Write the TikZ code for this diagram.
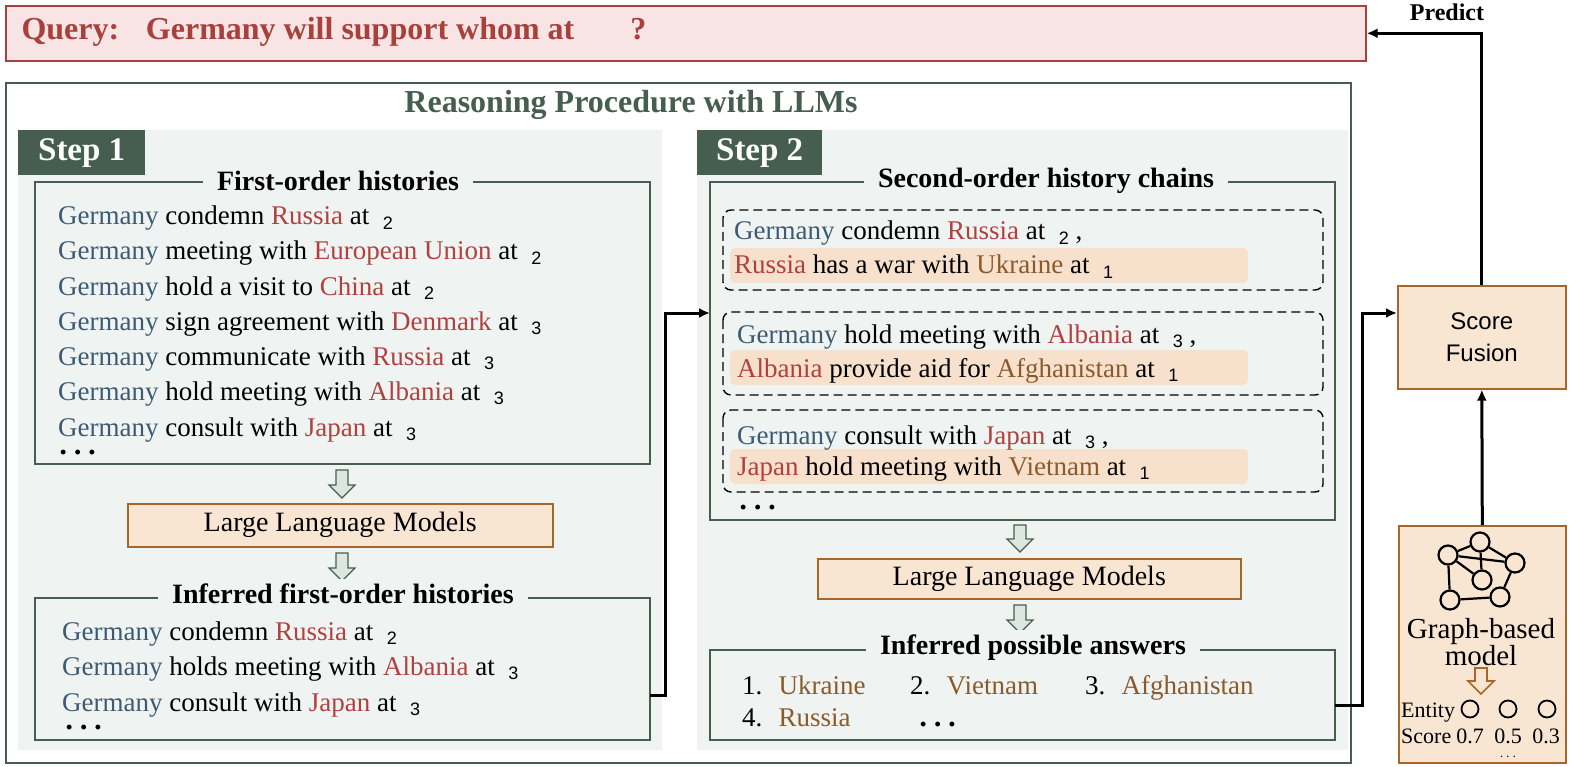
\documentclass[tikz,border=0pt]{standalone}
\usepackage{fontspec}
\setmainfont{Liberation Serif}
\setsansfont{Liberation Sans}
\usetikzlibrary{arrows.meta}
\definecolor{qfill}{HTML}{F8E4E4}
\definecolor{qred}{HTML}{A8403C}
\definecolor{dgreen}{HTML}{455E50}
\definecolor{panel}{HTML}{EFF4F2}
\definecolor{ofill}{HTML}{F8E6D2}
\definecolor{obrd}{HTML}{A5682A}
\definecolor{ger}{HTML}{3D5A73}
\definecolor{ent}{HTML}{B0413E}
\definecolor{ans}{HTML}{8B5A2B}
\definecolor{hl}{HTML}{F7E0CC}
\definecolor{hgreen}{HTML}{DCE7DF}
\newcommand{\G}{\textcolor{ger}{Germany}}
\newcommand{\E}[1]{\textcolor{ent}{#1}}
\newcommand{\A}[1]{\textcolor{ans}{#1}}
\newcommand{\ts}[1]{\hspace{0.5em}\raisebox{-0.35ex}{\sffamily\fontsize{18}{18}\selectfont #1}}
\newcommand{\dotsrow}{\textbf{\textbullet\hspace{0.45em}\textbullet\hspace{0.45em}\textbullet}}
\tikzset{
  line/.style={anchor=base west,inner sep=0pt,font=\rmfamily\fontsize{27}{30}\selectfont},
  dline/.style={anchor=base west,inner sep=0pt,font=\rmfamily\fontsize{18}{20}\selectfont},
  ttl/.style={fill=panel,inner xsep=14pt,inner ysep=5pt,font=\rmfamily\fontsize{28}{30}\selectfont\bfseries},
  gbox/.style={draw=dgreen,line width=1.6pt},
  obox/.style={draw=obrd,fill=ofill,line width=1.6pt,font=\rmfamily\fontsize{28}{30}\selectfont},
  conn/.style={line width=3pt,-{Latex[length=11pt,width=10pt]}},
  harrow/.style={draw=dgreen,fill=hgreen,line width=1.2pt},
  barrow/.style={draw=obrd,fill=ofill,line width=1.6pt},
  dbox/.style={draw=black,dashed,dash pattern=on 9pt off 5pt,rounded corners=8pt,line width=1.4pt},
  gn/.style={circle,draw,line width=2.2pt,minimum size=19pt,inner sep=0pt,fill=ofill},
  ec/.style={circle,draw,line width=1.8pt,minimum size=17pt,inner sep=0pt},
  sm/.style={anchor=base,inner sep=0pt,font=\rmfamily\fontsize{22}{24}\selectfont}
}
\newcommand{\hollow}[4]{% x, ytop, ybottom, style
  \draw[#4] (#1-6,#2) -- (#1+6,#2) -- (#1+6,#3-13) -- (#1+13,#3-13) -- (#1,#3) -- (#1-13,#3-13) -- (#1-6,#3-13) -- cycle;}
\begin{document}
\begin{tikzpicture}[x=1pt,y=-1pt]
\useasboundingbox (0,0) rectangle (1571,767);
% query
\node[draw=qred,fill=qfill,line width=1.6pt,minimum width=1360pt,minimum height=55pt,anchor=north west] (query) at (5,5) {};
\node[anchor=west,text=qred,font=\rmfamily\fontsize{32}{34}\selectfont\bfseries] (qtext) at (18,32) {Query:\hspace{0.5em} Germany will support whom at \hspace{1.5em}?};
\node[font=\rmfamily\fontsize{24}{26}\selectfont\bfseries] (pred) at (1447,12) {Predict};
% outer
\node[gbox,minimum width=1345pt,minimum height=680pt,anchor=north west] (outer) at (5,82) {};
\node[text=dgreen,font=\rmfamily\fontsize{32}{34}\selectfont\bfseries] (title) at (631,105) {Reasoning Procedure with LLMs};
% panels
\fill[panel] (18,130) rectangle (662,750);
\fill[panel] (697,130) rectangle (1348,750);
\node[fill=dgreen,text=white,font=\rmfamily\fontsize{33}{34}\selectfont\bfseries,minimum width=127pt,minimum height=45pt,anchor=north west,inner sep=0pt] (s1) at (18,130) {Step 1};
\node[fill=dgreen,text=white,font=\rmfamily\fontsize{33}{34}\selectfont\bfseries,minimum width=125pt,minimum height=45pt,anchor=north west,inner sep=0pt] (s2) at (697,130) {Step 2};
% step1 boxes
\draw[gbox] (35,182) rectangle (650,464);
\node[ttl] (t1) at (338,181) {First-order histories};
\node[line] (l1) at (58,225) {\G{} condemn \E{Russia} at\ts{2}};
\node[line] (l2) at (58,260) {\G{} meeting with \E{European Union} at\ts{2}};
\node[line] (l3) at (58,295) {\G{} hold a visit to \E{China} at\ts{2}};
\node[line] (l4) at (58,330) {\G{} sign agreement with \E{Denmark} at\ts{3}};
\node[line] (l5) at (58,365) {\G{} communicate with \E{Russia} at\ts{3}};
\node[line] (l6) at (58,400) {\G{} hold meeting with \E{Albania} at\ts{3}};
\node[line] (l7) at (58,436) {\G{} consult with \E{Japan} at\ts{3}};
\node[dline] (l8) at (60,458) {\dotsrow};
\hollow{342}{470}{498}{harrow}
\node[obox,minimum width=425pt,minimum height=43pt,anchor=north west] (llm1) at (127,503) {Large Language Models};
\hollow{342}{553}{581}{harrow}
\draw[gbox] (35,598) rectangle (650,740);
\node[ttl] (t2) at (343,594) {Inferred first-order histories};
\node[line] (m1) at (62,640) {\G{} condemn \E{Russia} at\ts{2}};
\node[line] (m2) at (62,675) {\G{} holds meeting with \E{Albania} at\ts{3}};
\node[line] (m3) at (62,711) {\G{} consult with \E{Japan} at\ts{3}};
\node[dline] (m4) at (66,733) {\dotsrow};
\coordinate (inf) at (650,695);
% step2
\draw[gbox] (710,182) rectangle (1335,520);
\node[ttl] (t3) at (1046,181) {Second-order history chains};
\draw[dbox] (723,210) rectangle (1323,290);
\draw[dbox] (723,312) rectangle (1323,395);
\draw[dbox] (723,410) rectangle (1323,492);
\fill[hl,rounded corners=5pt] (730,248) rectangle (1248,283);
\fill[hl,rounded corners=5pt] (730,350) rectangle (1248,385);
\fill[hl,rounded corners=5pt] (730,449) rectangle (1248,484);
\node[line] (c1) at (734,240) {\G{} condemn \E{Russia} at\ts{2} ,};
\node[line] (c2) at (734,274) {\E{Russia} has a war with \A{Ukraine} at\ts{1}};
\node[line] (c3) at (737,343) {\G{} hold meeting with \E{Albania} at\ts{3} ,};
\node[line] (c4) at (737,377) {\E{Albania} provide aid for \A{Afghanistan} at\ts{1}};
\node[line] (c5) at (737,444) {\G{} consult with \E{Japan} at\ts{3} ,};
\node[line] (c6) at (737,475) {\E{Japan} hold meeting with \A{Vietnam} at\ts{1}};
\node[dline] (c7) at (740,513) {\dotsrow};
\hollow{1020}{525}{552}{harrow}
\node[obox,minimum width=423pt,minimum height=40pt,anchor=north west] (llm2) at (817,558) {Large Language Models};
\hollow{1020}{605}{633}{harrow}
\draw[gbox] (710,650) rectangle (1335,740);
\node[ttl] (t4) at (1033,648) {Inferred possible answers};
\node[line] (a1) at (742,694) {1.\hspace{0.6em}\A{Ukraine}};
\node[line] (a2) at (910,694) {2.\hspace{0.6em}\A{Vietnam}};
\node[line] (a3) at (1085,694) {3.\hspace{0.6em}\A{Afghanistan}};
\node[line] (a4) at (742,726) {4.\hspace{0.6em}\A{Russia}};
\node[dline] (a5) at (920,730) {\dotsrow};
\coordinate (ansr) at (1335,705);
% score fusion
\node[obox,font=\sffamily\fontsize{24}{30}\selectfont,align=center,minimum width=168pt,minimum height=103pt,anchor=north west] (fusion) at (1397,285) {Score\\[2pt]Fusion};
\node[draw=obrd,fill=ofill,line width=1.6pt,minimum width=167pt,minimum height=237pt,anchor=north west] (gbm) at (1398,525) {};
% graph icon
\node[gn] (g1) at (1480,542) {};
\node[gn] (g2) at (1448,555) {};
\node[gn] (g3) at (1515,563) {};
\node[gn] (g4) at (1482,580) {};
\node[gn] (g5) at (1450,600) {};
\node[gn] (g6) at (1500,597) {};
\begin{scope}[line width=2.2pt]
\draw (g1)--(g2); \draw (g1)--(g3); \draw (g2)--(g3); \draw (g1)--(g4); \draw (g2)--(g4);
\draw (g2)--(g5); \draw (g5)--(g6); \draw (g6)--(g3);
\end{scope}
\node[font=\rmfamily\fontsize{29}{24}\selectfont,align=center] (gtext) at (1481,642) {Graph-based\\model};
\hollow{1481}{668}{694}{barrow}
\node[anchor=base west,inner sep=0pt,font=\rmfamily\fontsize{22}{24}\selectfont] (ent) at (1401,717) {Entity};
\node[anchor=base west,inner sep=0pt,font=\rmfamily\fontsize{22}{24}\selectfont] (sc) at (1401,743) {Score};
\node[ec] (e1) at (1470,709) {};
\node[ec] (e2) at (1508,709) {};
\node[ec] (e3) at (1547,709) {};
\node[sm] (v1) at (1470,743) {0.7};
\node[sm] (v2) at (1508,743) {0.5};
\node[sm] (v3) at (1546,743) {0.3};
\node[anchor=base,inner sep=0pt,font=\rmfamily\fontsize{14}{16}\selectfont] (v4) at (1508,760) {$\cdots$};
% connectors
\draw[conn] (inf) -- (665,695) |- (710,313);
\draw[conn] (ansr) -- (1362,705) |- (fusion.west |- 0,313);
\draw[conn] (gbm.north) -- (fusion.south);
\draw[conn] (fusion.north) |- (query.east);
\end{tikzpicture}
\end{document}
